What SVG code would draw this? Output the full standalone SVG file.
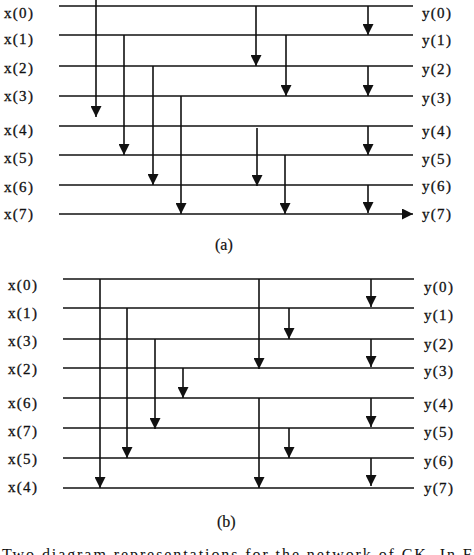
<svg xmlns="http://www.w3.org/2000/svg" width="474" height="555" viewBox="0 0 474 555">
<style>
.bg{fill:#fff}
.h{stroke:#111;stroke-width:1.6;fill:none}
.v{stroke:#111;stroke-width:1.6;fill:none;marker-end:url(#ah)}
.lbl{font-family:"Liberation Serif","Times New Roman",serif;font-size:15px;fill:#111;stroke:#111;stroke-width:0.3;letter-spacing:1.3px}
.cap{font-family:"Liberation Serif","Times New Roman",serif;font-size:15px;fill:#111}
.fig{font-family:"Liberation Serif","Times New Roman",serif;font-size:16px;fill:#111;stroke:#111;stroke-width:0.2}
</style>
<defs>
<marker id="ah" markerUnits="userSpaceOnUse" viewBox="0 0 10 10" refX="10" refY="5" markerWidth="11" markerHeight="11" orient="auto">
<path d="M0,0 L10,5 L0,10 z" fill="#111"/>
</marker>
</defs>
<rect class="bg" width="474" height="555"/>

<g id="diagram-a">
<g id="a-wires">
<line class="h" x1="59" y1="6" x2="413" y2="6"/>
<line class="h" x1="59" y1="35" x2="413" y2="35"/>
<line class="h" x1="59" y1="66" x2="413" y2="66"/>
<line class="h" x1="59" y1="96" x2="413" y2="96"/>
<line class="h" x1="59" y1="126" x2="413" y2="126"/>
<line class="h" x1="59" y1="155" x2="413" y2="155"/>
<line class="h" x1="59" y1="185" x2="413" y2="185"/>
<line class="h" x1="59" y1="214" x2="413" y2="214" style="marker-end:url(#ah)"/>
</g>
<g id="a-inputs">
<text class="lbl" x="4" y="18">x(0)</text>
<text class="lbl" x="4" y="44">x(1)</text>
<text class="lbl" x="4" y="73">x(2)</text>
<text class="lbl" x="4" y="101">x(3)</text>
<text class="lbl" x="4" y="135">x(4)</text>
<text class="lbl" x="4" y="163">x(5)</text>
<text class="lbl" x="4" y="192">x(6)</text>
<text class="lbl" x="4" y="219">x(7)</text>
</g>
<g id="a-outputs">
<text class="lbl" x="422" y="18">y(0)</text>
<text class="lbl" x="422" y="45">y(1)</text>
<text class="lbl" x="422" y="74">y(2)</text>
<text class="lbl" x="422" y="103">y(3)</text>
<text class="lbl" x="422" y="136">y(4)</text>
<text class="lbl" x="422" y="164">y(5)</text>
<text class="lbl" x="422" y="191">y(6)</text>
<text class="lbl" x="422" y="219">y(7)</text>
</g>
<g id="a-connectors">
<line class="v" x1="96" y1="0" x2="96" y2="117"/>
<line class="v" x1="124" y1="35" x2="124" y2="155"/>
<line class="v" x1="153" y1="66" x2="153" y2="185"/>
<line class="v" x1="181" y1="96" x2="181" y2="214"/>
<line class="v" x1="256" y1="6" x2="256" y2="66"/>
<line class="v" x1="286" y1="35" x2="286" y2="96"/>
<line class="v" x1="257" y1="128" x2="257" y2="186"/>
<line class="v" x1="285" y1="155" x2="285" y2="214"/>
<line class="v" x1="368" y1="6" x2="368" y2="35"/>
<line class="v" x1="368" y1="66" x2="368" y2="96"/>
<line class="v" x1="368" y1="126" x2="368" y2="155"/>
<line class="v" x1="368" y1="185" x2="368" y2="213"/>
</g>
<text class="fig" x="215" y="250">(a)</text>
</g>

<g id="diagram-b">
<g id="b-wires">
<line class="h" x1="63" y1="279" x2="414" y2="279"/>
<line class="h" x1="63" y1="308" x2="414" y2="308"/>
<line class="h" x1="63" y1="339" x2="414" y2="339"/>
<line class="h" x1="63" y1="368" x2="414" y2="368"/>
<line class="h" x1="63" y1="398" x2="414" y2="398"/>
<line class="h" x1="63" y1="428" x2="414" y2="428"/>
<line class="h" x1="63" y1="458" x2="414" y2="458"/>
<line class="h" x1="63" y1="488" x2="414" y2="488"/>
</g>
<g id="b-inputs">
<text class="lbl" x="8" y="290">x(0)</text>
<text class="lbl" x="8" y="318">x(1)</text>
<text class="lbl" x="8" y="346">x(3)</text>
<text class="lbl" x="8" y="374">x(2)</text>
<text class="lbl" x="8" y="408">x(6)</text>
<text class="lbl" x="8" y="436">x(7)</text>
<text class="lbl" x="8" y="464">x(5)</text>
<text class="lbl" x="8" y="492">x(4)</text>
</g>
<g id="b-outputs">
<text class="lbl" x="424" y="292">y(0)</text>
<text class="lbl" x="424" y="320">y(1)</text>
<text class="lbl" x="424" y="349">y(2)</text>
<text class="lbl" x="424" y="376">y(3)</text>
<text class="lbl" x="424" y="409">y(4)</text>
<text class="lbl" x="424" y="437">y(5)</text>
<text class="lbl" x="424" y="466">y(6)</text>
<text class="lbl" x="424" y="493">y(7)</text>
</g>
<g id="b-connectors">
<line class="v" x1="100" y1="279" x2="100" y2="488"/>
<line class="v" x1="127" y1="308" x2="127" y2="458"/>
<line class="v" x1="155" y1="339" x2="155" y2="429"/>
<line class="v" x1="183" y1="368" x2="183" y2="398"/>
<line class="v" x1="259" y1="279" x2="259" y2="369"/>
<line class="v" x1="289" y1="308" x2="289" y2="339"/>
<line class="v" x1="259" y1="398" x2="259" y2="488"/>
<line class="v" x1="289" y1="428" x2="289" y2="458"/>
<line class="v" x1="371" y1="279" x2="371" y2="307"/>
<line class="v" x1="371" y1="339" x2="371" y2="367"/>
<line class="v" x1="371" y1="398" x2="371" y2="427"/>
<line class="v" x1="371" y1="458" x2="371" y2="486"/>
</g>
<text class="fig" x="217" y="527">(b)</text>
</g>

<text class="cap" x="2" y="560" style="font-size:16px" textLength="476" lengthAdjust="spacing">Two diagram representations for the network of CK. In Fi</text>
</svg>
